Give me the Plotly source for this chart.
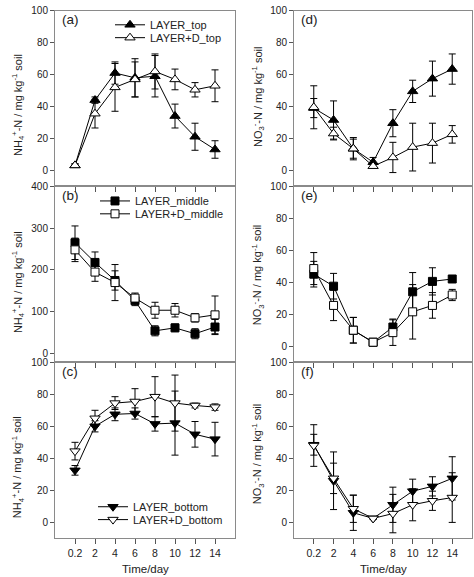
import plotly.graph_objects as go

# sampling days (categorical axis, evenly spaced)
days = ["0.2", "2", "4", "6", "8", "10", "12", "14"]

# NH4+-N, top / middle / bottom layer
nh4_top = [3, 44, 61, 58, 59, 34, 21, 13]
nh4_top_err = [1, 2, 7, 12, 13, 7.5, 8.5, 5.5]
nh4_top_d = [3, 35.5, 52, 57, 62, 57, 50.5, 53]
nh4_top_d_err = [1, 9, 15, 11, 11, 6.5, 4.5, 10]

nh4_mid = [265, 218, 175, 127, 55, 62, 48, 64]
nh4_mid_err = [40, 25, 23, 12, 12, 9, 12, 18]
nh4_mid_d = [248, 195, 170, 133, 104, 104, 86, 93]
nh4_mid_d_err = [28, 22, 43, 12, 19, 16, 10, 45]

nh4_bot = [32.5, 60, 67.5, 68, 61.5, 62, 55, 52]
nh4_bot_err = [3, 3.5, 4, 3.5, 4.5, 20, 8, 10.5]
nh4_bot_d = [44.5, 65, 74.5, 75.5, 78.5, 74.5, 73, 72]
nh4_bot_d_err = [5.5, 5, 4, 8, 12.5, 17.5, 1.5, 2]

# NO3--N, top / middle / bottom layer
no3_top = [39, 31.5, 13.5, 5, 29.5, 49.5, 57.5, 63.5]
no3_top_err = [6, 12, 7, 3, 8.5, 7, 11, 9.5]
no3_top_d = [39.5, 23, 13.5, 2.5, 8, 14.5, 17, 22.5]
no3_top_d_err = [13.5, 4, 6, 1, 9.5, 15, 12.5, 5.5]

no3_mid = [45, 37.5, 10, 2.5, 12, 34, 40.5, 42]
no3_mid_err = [8, 8, 8, 1, 5, 12, 8.5, 1]
no3_mid_d = [48.5, 25.5, 10, 2.5, 8.5, 21.5, 25.5, 32]
no3_mid_d_err = [10, 9.5, 8, 1, 8, 17, 8, 3.5]

no3_bot = [48.5, 26, 6, 2.5, 11, 19.5, 22.5, 27.5]
no3_bot_err = [6.5, 18, 11, 0.5, 11, 7.5, 6, 13.5]
no3_bot_d = [48, 27.5, 8.5, 2.5, 5.5, 11, 13.5, 15.5]
no3_bot_d_err = [13, 9.5, 8.5, 0.5, 12, 10, 6, 15.5]

W, H = 474, 577
FONT = "Liberation Sans, Arial, sans-serif"
INK = "#222222"

# plot areas in pixels (left, right) and (top, bottom)
cols = [(55, 235), (294, 472)]
rows = [(5, 182), (182, 360), (360, 538)]


def px_x(a, b):
    return [a / W, b / W]


def px_y(t, b):
    return [1 - b / H, 1 - t / H]


fig = go.Figure()

panels = [
    # (col, row, filled, filled_err, open, open_err, symbol, names, yrange, dtick, legends)
    (0, 0, nh4_top, nh4_top_err, nh4_top_d, nh4_top_d_err, "triangle-up",
     ("LAYER_top", "LAYER+D_top"), [-10, 100], 20, ("legend", "legend2")),
    (0, 1, nh4_mid, nh4_mid_err, nh4_mid_d, nh4_mid_d_err, "square",
     ("LAYER_middle", "LAYER+D_middle"), [-20, 400], 100, ("legend3", "legend4")),
    (0, 2, nh4_bot, nh4_bot_err, nh4_bot_d, nh4_bot_d_err, "triangle-down",
     ("LAYER_bottom", "LAYER+D_bottom"), [-10, 100], 20, ("legend5", "legend6")),
    (1, 0, no3_top, no3_top_err, no3_top_d, no3_top_d_err, "triangle-up",
     ("LAYER_top", "LAYER+D_top"), [-10, 100], 20, None),
    (1, 1, no3_mid, no3_mid_err, no3_mid_d, no3_mid_d_err, "square",
     ("LAYER_middle", "LAYER+D_middle"), [-10, 100], 20, None),
    (1, 2, no3_bot, no3_bot_err, no3_bot_d, no3_bot_d_err, "triangle-down",
     ("LAYER_bottom", "LAYER+D_bottom"), [-10, 100], 20, None),
]

layout = {}
for i, (c, r, yf, ef, yo, eo, sym, names, yr, dt, legs) in enumerate(panels):
    n = i + 1
    xa = "x" if n == 1 else f"x{n}"
    ya = "y" if n == 1 else f"y{n}"
    msize = 8 if sym == "square" else 9
    series = [(yf, ef, "black", names[0]), (yo, eo, "white", names[1])]
    for k, (vals, errs, fill, name) in enumerate(series):
        fig.add_trace(go.Scatter(
            x=days, y=vals, name=name, mode="lines+markers",
            xaxis=xa, yaxis=ya,
            line=dict(color="black", width=1),
            marker=dict(symbol=sym, size=msize, color=fill,
                        line=dict(color="black", width=1)),
            error_y=dict(type="data", array=errs, color="black",
                         thickness=1, width=3.5),
            showlegend=legs is not None,
            legend=legs[k] if legs else "legend",
        ))
    last_row = r == 2
    layout["xaxis" if n == 1 else f"xaxis{n}"] = dict(
        domain=px_x(*cols[c]), anchor=ya, type="category",
        categoryorder="array", categoryarray=days, range=[-1, 8],
        showline=True, mirror=True, linecolor="#8a8a8a", linewidth=1,
        ticks="outside", ticklen=5, tickcolor="#555", showgrid=False,
        zeroline=False, showticklabels=last_row,
        tickfont=dict(size=10.5, color=INK, family=FONT),
    )
    layout["yaxis" if n == 1 else f"yaxis{n}"] = dict(
        domain=px_y(*rows[r]), anchor=xa, range=yr, dtick=dt, tick0=0,
        showline=True, mirror=True, linecolor="#8a8a8a", linewidth=1,
        ticks="outside", ticklen=4, tickcolor="#555", showgrid=False,
        zeroline=False, tickfont=dict(size=10, color=INK, family=FONT),
    )

# one legend box per entry so the rows can sit as tightly as in the original
leg_style = dict(bgcolor="rgba(0,0,0,0)", font=dict(size=11, color=INK, family=FONT),
                 xanchor="left", yanchor="middle", itemwidth=30)
leg_pos = [(110, 19), (110, 32), (95, 197), (95, 210), (93, 506), (93, 519)]
for j, (lx, ly) in enumerate(leg_pos):
    key = "legend" if j == 0 else f"legend{j + 1}"
    layout[key] = dict(x=lx / W, y=1 - ly / H, **leg_style)

annotations = []
# panel letters
for letter, (c, r) in zip("abcdef", [(0, 0), (0, 1), (0, 2), (1, 0), (1, 1), (1, 2)]):
    annotations.append(dict(
        text=f"({letter})", xref="paper", yref="paper",
        x=(cols[c][0] + 5) / W, y=1 - (rows[r][0] + 9) / H,
        xanchor="left", yanchor="middle", showarrow=False,
        font=dict(size=13.5, color=INK, family=FONT)))

nh4_title = "NH<sub>4</sub><sup>+</sup>-N / mg kg<sup>-1</sup> soil"
no3_title = "NO<sub>3</sub><sup>-</sup>-N / mg kg<sup>-1</sup> soil"
for title, xc, ycs in [(nh4_title, 18, [100, 279, 466]), (no3_title, 258, [92, 272, 453])]:
    for yc in ycs:
        annotations.append(dict(
            text=title, xref="paper", yref="paper", x=xc / W, y=1 - yc / H,
            xanchor="center", yanchor="middle", textangle=-90, showarrow=False,
            font=dict(size=11, color=INK, family=FONT)))

for xc in [145, 383]:
    annotations.append(dict(
        text="Time/day", xref="paper", yref="paper", x=xc / W, y=1 - 569 / H,
        xanchor="center", yanchor="middle", showarrow=False,
        font=dict(size=11.5, color=INK, family=FONT)))

fig.update_layout(
    width=W, height=H,
    margin=dict(l=0, r=0, t=0, b=0),
    paper_bgcolor="white", plot_bgcolor="white",
    font=dict(family=FONT, color=INK),
    annotations=annotations,
    **layout,
)

# the page body has a default margin; drop it so the figure fills the window
fig.write_html("out.html", config={"displayModeBar": False},
               post_script="document.body.style.margin='0';")
